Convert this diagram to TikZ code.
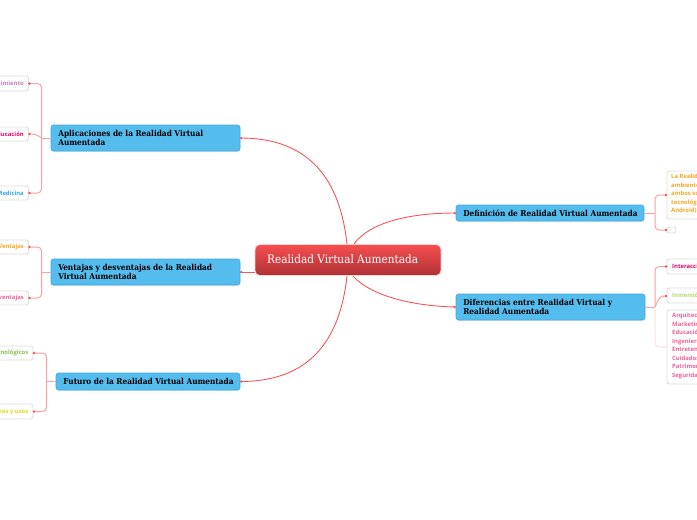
\documentclass[tikz,border=0pt]{standalone}
\usepackage{fontspec}
\setmainfont{DejaVu Serif Condensed}
\newfontfamily\leaffont{Open Sans}
\usetikzlibrary{arrows.meta,shadows}
\definecolor{linkred}{HTML}{F4555B}
\definecolor{linkpale}{HTML}{FBA0A4}
\definecolor{topicblue}{HTML}{55BCEE}
\definecolor{topicedge}{HTML}{3FA9E0}
\definecolor{leafedge}{HTML}{DEDEDE}
\definecolor{c41}{HTML}{F7A823}
\definecolor{roottop}{HTML}{F74E50}
\definecolor{rootbot}{HTML}{AE3134}
\tikzset{
  x=1pt,y=-1pt,
  centralbox/.style={rounded corners=5pt,top color=roottop,bottom color=rootbot,draw=red!18!white,line width=.6pt,minimum width=186pt,minimum height=31pt,inner sep=0pt},
  topicbox/.style={rounded corners=2.5pt,fill=topicblue,draw=topicedge,line width=.6pt,inner sep=0pt,font=\fontsize{8.2}{9.8}\selectfont\bfseries,align=left,text=black},
  softshadow/.style={drop shadow={opacity=.18,shadow xshift=0pt,shadow yshift=-1pt}},
  leafbox/.style={rounded corners=2.5pt,fill=white,draw=leafedge,line width=.9pt,inner sep=0pt},
  leaftext/.style={font=\leaffont\bfseries\fontsize{5.9}{8.55}\selectfont,align=left,inner sep=0pt},
  mainlink/.style={draw=linkred,line width=.9pt},
  sublink/.style={draw=linkpale,line width=1pt,rounded corners=4pt},
  tip/.style={fill=linkred,circle,inner sep=0pt,minimum size=2.6pt}
}
\begin{document}
\begin{tikzpicture}
\useasboundingbox (0,0) rectangle (697,520);
\clip (0,0) rectangle (697,520);
% main curves
\coordinate (c1) at (347,244); \coordinate (c2) at (347,276);
\coordinate (c3) at (354,244); \coordinate (c4) at (353,276);
\node[topicbox,softshadow,minimum width=189pt,minimum height=26pt] (t1) at (145.5,138) {};
\node[topicbox,softshadow,minimum width=189pt,minimum height=26pt] (t2) at (145.5,272) {};
\node[topicbox,softshadow,minimum width=184pt,minimum height=17pt] (t3) at (148,381.5) {};
\node[topicbox,softshadow,minimum width=188pt,minimum height=16pt] (t4) at (550,213) {};
\node[topicbox,softshadow,minimum width=189pt,minimum height=26pt] (t5) at (550.5,307) {};
\draw[mainlink] (c1) .. controls (340,180) and (310,138) .. (t1.east);
\draw[mainlink] (c2) .. controls (340,340) and (310,381.5) .. (t3.east);
\draw[mainlink] (c3) .. controls (370,222) and (410,213) .. (t4.west);
\draw[mainlink] (c4) .. controls (370,295) and (410,306) .. (t5.west);
\node[centralbox] (root) at (348,260) {};
\node[text=white,font=\fontsize{11.7}{13}\selectfont,anchor=west,inner sep=0pt] (roott) at (267,259) {Realidad Virtual Aumentada};
\draw[mainlink] (root.west |- 0,272) coordinate (r2) -- (t2.east);
% topic labels
\node[topicbox,draw=none,fill=none,anchor=west] (l1) at (58,138) {Aplicaciones de la Realidad Virtual\\Aumentada};
\node[topicbox,draw=none,fill=none,anchor=west] (l2) at (58,272) {Ventajas y desventajas de la Realidad\\Virtual Aumentada};
\node[topicbox,draw=none,fill=none,anchor=west] (l3) at (63,381.5) {Futuro de la Realidad Virtual Aumentada};
\node[topicbox,draw=none,fill=none,anchor=west] (l4) at (463,213) {Definición de Realidad Virtual Aumentada};
\node[topicbox,draw=none,fill=none,anchor=west] (l5) at (463,307) {Diferencias entre Realidad Virtual y\\Realidad Aumentada};
% left leaves
\foreach \n/\xr/\ya/\yb/\c/\txt in {
 a1/28.5/76/91/C77FC4/Entretenimiento,
 a2/28.5/127/141/E5006B/Educación,
 a3/28.5/186/200/2CA9EC/Medicina,
 b1/28.5/240/254/F7A823/Ventajas,
 b2/28.5/291/305/F0609E/Desventajas,
 d1/33/346/360/8CC152/Avances tecnológicos,
 d2/33/404/419/DCDC1E/Aplicaciones y usos}{
  \draw[leafbox] (-60,\ya) rectangle (\xr,\yb);
  \definecolor{lc}{HTML}{\c}
  \node[leaftext,text=lc,anchor=east] (\n) at (\xr-4.5,{(\ya+\yb)/2}) {\txt};
}
\coordinate (a1x) at (28.5,83.5); \coordinate (a2x) at (28.5,134); \coordinate (a3x) at (28.5,193);
\coordinate (b1x) at (28.5,247); \coordinate (b2x) at (28.5,298);
\coordinate (d1x) at (33,353); \coordinate (d2x) at (33,411.5);
% left sublinks
\draw[sublink] (a1x) -- (41.5,83.5) -- (41.5,193) -- (a3x);
\draw[sublink] (a2x) -- (36,134) -- (41.5,138);
\draw[sublink] (41.5,138) -- (t1.west);
\draw[sublink] (b1x) -- (41.5,247) -- (41.5,298) -- (b2x);
\draw[sublink] (41.5,272) -- (t2.west);
\draw[sublink] (d1x) -- (46.5,353) -- (46.5,411.5) -- (d2x);
\draw[sublink] (46.5,381.5) -- (t3.west);
\foreach \p in {a1x,a2x,a3x,b1x,b2x,d1x,d2x} \node[tip,xshift=1pt] at (\p) {};
\node[tip,xshift=1pt] at (t1.east) {};
\node[tip,xshift=1pt] at (t2.east) {};
\node[tip,xshift=1pt] at (t3.east) {};
\node[tip,xshift=-1pt] at (t4.west) {};
\node[tip,xshift=-1pt] at (t5.west) {};
% right leaves
\draw[leafbox] (667,171) rectangle (760,219) ;
\node[leaftext,text=c41,anchor=north west] (e1) at (671,174) {La Realidad\\ambiente\\ambos son\\tecnológica\\Android)};
\draw[leafbox] (667,227) rectangle (676,233);
\coordinate (e1w) at (667,195); \coordinate (e2w) at (667,230);
\draw[sublink] (t4.east) -- (655,213);
\draw[sublink] (e1w) -- (655,195) -- (655,230) -- (e2w);
\draw[leafbox] (667,259) rectangle (760,274);
\draw[leafbox] (667,288) rectangle (760,303);
\draw[leafbox] (667,310) rectangle (760,384);
\definecolor{c51}{HTML}{E5006B}\definecolor{c52}{HTML}{B5D96B}\definecolor{c53}{HTML}{F0609E}
\node[leaftext,text=c51,anchor=west] (f1) at (672,266.5) {Interacción};
\node[leaftext,text=c52,anchor=west] (f2) at (672,295.5) {Inmersión};
\node[leaftext,text=c53,anchor=north west] (f3) at (672,313) {Arquitectura\\Marketing\\Educación\\Ingeniería\\Entretenimiento\\Cuidados\\Patrimonio\\Seguridad};
\coordinate (g1) at (667,266.5); \coordinate (g2) at (667,296); \coordinate (g3) at (667,347);
\draw[sublink] (t5.east) -- (655,307);
\draw[sublink] (g1) -- (655,266.5) -- (655,307);
\draw[sublink] (g2) -- (660,296) -- (655,307);
\draw[draw=red!12,line width=1pt,rounded corners=4pt] (655,307) -- (655,347) -- (g3);
\foreach \p in {e1w,e2w,g1,g2} \node[tip,xshift=-1pt] at (\p) {};
\end{tikzpicture}
\end{document}
